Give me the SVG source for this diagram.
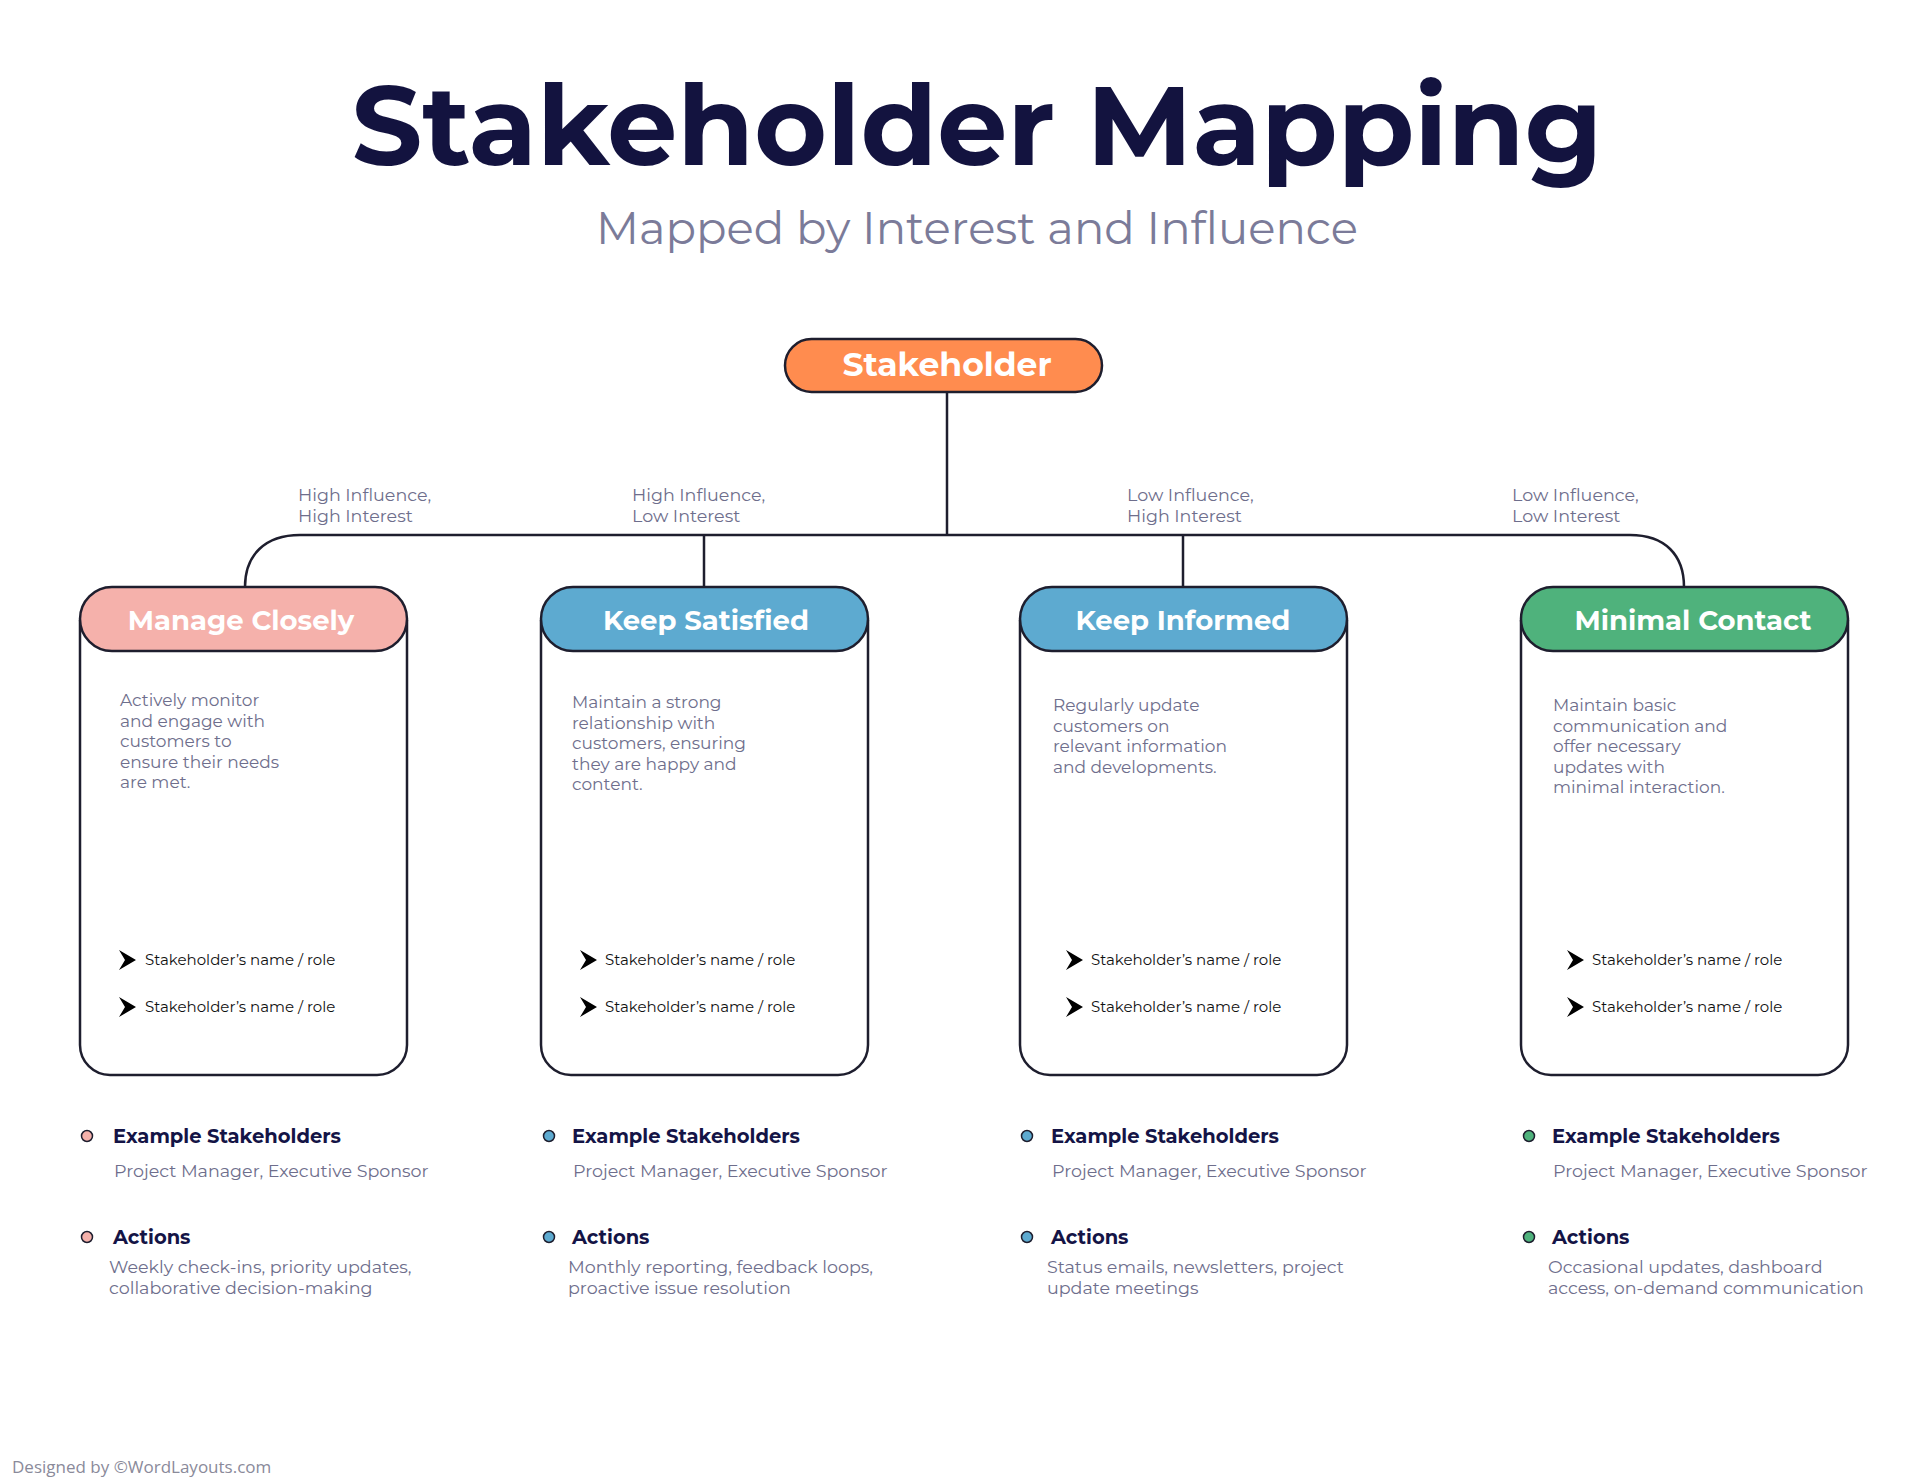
<svg xmlns="http://www.w3.org/2000/svg" width="1920" height="1484" viewBox="0 0 1920 1484">
<style>
text{font-family:Montserrat,Inter,"Open Sans","Liberation Sans",sans-serif}
.title{font-size:111px;font-weight:700;fill:#13133f}
.sub{font-size:45px;fill:#7b7b99}
.lbl{font-size:17.5px;fill:#6e6e8c}
.hd{font-size:27.5px;font-weight:700;fill:#fff}
.body{font-size:17px;fill:#6e6e8c}
.item{font-size:15px;fill:#111}
.bh{font-size:19.5px;font-weight:700;fill:#141446}
.bt{font-size:17.5px;fill:#6e6e8c}
.card{fill:#fff;stroke:#1e1e2e;stroke-width:2.5}
.hdr{stroke:#1e1e2e;stroke-width:2.5}
.ln{fill:none;stroke:#1e1e2e;stroke-width:2.5}
.dot{stroke:#1e1e2e;stroke-width:1.5}
</style>
<defs>
<path id="chev" d="M0,-10 L17,0 L0,10 L6,0 Z" fill="#000"/>
</defs>
<rect width="1920" height="1484" fill="#fff"/>
<text class="title" x="977" y="165" text-anchor="middle">Stakeholder Mapping</text>
<text class="sub" x="977" y="244" text-anchor="middle">Mapped by Interest and Influence</text>

<g id="connectors">
<path class="ln" d="M947,392 V535"/>
<path class="ln" d="M245,587 C245,555 265,535 300,535 H1630 C1665,535 1684,555 1684,587"/>
<path class="ln" d="M704,535 V587"/>
<path class="ln" d="M1183,535 V587"/>
<text class="lbl" x="298" y="501">High Influence,</text><text class="lbl" x="298" y="522">High Interest</text>
<text class="lbl" x="632" y="501">High Influence,</text><text class="lbl" x="632" y="522">Low Interest</text>
<text class="lbl" x="1127" y="501">Low Influence,</text><text class="lbl" x="1127" y="522">High Interest</text>
<text class="lbl" x="1512" y="501">Low Influence,</text><text class="lbl" x="1512" y="522">Low Interest</text>
</g>

<g id="root">
<rect x="785" y="339" width="317" height="53" rx="26.5" fill="#ff8c4f" class="hdr"/>
<text class="hd" x="947" y="376" text-anchor="middle" style="font-size:33px">Stakeholder</text>
</g>

<g id="card1">
<path class="card" d="M80,620 V1045 a30,30 0 0 0 30,30 H377 a30,30 0 0 0 30,-30 V620"/>
<rect x="80" y="587" width="327" height="64" rx="32" fill="#f5b1ab" class="hdr"/>
<text class="hd" x="241" y="630" text-anchor="middle">Manage Closely</text>
<text class="body" x="120" y="706">Actively monitor</text>
<text class="body" x="120" y="726.5">and engage with</text>
<text class="body" x="120" y="747">customers to</text>
<text class="body" x="120" y="767.5">ensure their needs</text>
<text class="body" x="120" y="788">are met.</text>
<use href="#chev" x="119" y="960"/><text class="item" x="145" y="965">Stakeholder’s name / role</text>
<use href="#chev" x="119" y="1007"/><text class="item" x="145" y="1012">Stakeholder’s name / role</text>
<circle class="dot" cx="87" cy="1136" r="5.5" fill="#f5b1ab"/>
<text class="bh" x="113" y="1143">Example Stakeholders</text>
<text class="bt" x="114" y="1177">Project Manager, Executive Sponsor</text>
<circle class="dot" cx="87" cy="1237" r="5.5" fill="#f5b1ab"/>
<text class="bh" x="113" y="1244">Actions</text>
<text class="bt" x="109" y="1273">Weekly check-ins, priority updates,</text>
<text class="bt" x="109" y="1294">collaborative decision-making</text>
</g>

<g id="card2">
<path class="card" d="M541,620 V1045 a30,30 0 0 0 30,30 H838 a30,30 0 0 0 30,-30 V620"/>
<rect x="541" y="587" width="327" height="64" rx="32" fill="#5daad0" class="hdr"/>
<text class="hd" x="706" y="630" text-anchor="middle">Keep Satisfied</text>
<text class="body" x="572" y="708">Maintain a strong</text>
<text class="body" x="572" y="728.5">relationship with</text>
<text class="body" x="572" y="749">customers, ensuring</text>
<text class="body" x="572" y="769.5">they are happy and</text>
<text class="body" x="572" y="790">content.</text>
<use href="#chev" x="580" y="960"/><text class="item" x="605" y="965">Stakeholder’s name / role</text>
<use href="#chev" x="580" y="1007"/><text class="item" x="605" y="1012">Stakeholder’s name / role</text>
<circle class="dot" cx="549" cy="1136" r="5.5" fill="#5daad0"/>
<text class="bh" x="572" y="1143">Example Stakeholders</text>
<text class="bt" x="573" y="1177">Project Manager, Executive Sponsor</text>
<circle class="dot" cx="549" cy="1237" r="5.5" fill="#5daad0"/>
<text class="bh" x="572" y="1244">Actions</text>
<text class="bt" x="568" y="1273">Monthly reporting, feedback loops,</text>
<text class="bt" x="568" y="1294">proactive issue resolution</text>
</g>

<g id="card3">
<path class="card" d="M1020,620 V1045 a30,30 0 0 0 30,30 H1317 a30,30 0 0 0 30,-30 V620"/>
<rect x="1020" y="587" width="327" height="64" rx="32" fill="#5daad0" class="hdr"/>
<text class="hd" x="1183" y="630" text-anchor="middle">Keep Informed</text>
<text class="body" x="1053" y="711">Regularly update</text>
<text class="body" x="1053" y="731.5">customers on</text>
<text class="body" x="1053" y="752">relevant information</text>
<text class="body" x="1053" y="772.5">and developments.</text>
<use href="#chev" x="1066" y="960"/><text class="item" x="1091" y="965">Stakeholder’s name / role</text>
<use href="#chev" x="1066" y="1007"/><text class="item" x="1091" y="1012">Stakeholder’s name / role</text>
<circle class="dot" cx="1027" cy="1136" r="5.5" fill="#5daad0"/>
<text class="bh" x="1051" y="1143">Example Stakeholders</text>
<text class="bt" x="1052" y="1177">Project Manager, Executive Sponsor</text>
<circle class="dot" cx="1027" cy="1237" r="5.5" fill="#5daad0"/>
<text class="bh" x="1051" y="1244">Actions</text>
<text class="bt" x="1047" y="1273">Status emails, newsletters, project</text>
<text class="bt" x="1047" y="1294">update meetings</text>
</g>

<g id="card4">
<path class="card" d="M1521,620 V1045 a30,30 0 0 0 30,30 H1818 a30,30 0 0 0 30,-30 V620"/>
<rect x="1521" y="587" width="327" height="64" rx="32" fill="#4fb27c" class="hdr"/>
<text class="hd" x="1693" y="630" text-anchor="middle">Minimal Contact</text>
<text class="body" x="1553" y="711">Maintain basic</text>
<text class="body" x="1553" y="731.5">communication and</text>
<text class="body" x="1553" y="752">offer necessary</text>
<text class="body" x="1553" y="772.5">updates with</text>
<text class="body" x="1553" y="793">minimal interaction.</text>
<use href="#chev" x="1567" y="960"/><text class="item" x="1592" y="965">Stakeholder’s name / role</text>
<use href="#chev" x="1567" y="1007"/><text class="item" x="1592" y="1012">Stakeholder’s name / role</text>
<circle class="dot" cx="1529" cy="1136" r="5.5" fill="#4fb27c"/>
<text class="bh" x="1552" y="1143">Example Stakeholders</text>
<text class="bt" x="1553" y="1177">Project Manager, Executive Sponsor</text>
<circle class="dot" cx="1529" cy="1237" r="5.5" fill="#4fb27c"/>
<text class="bh" x="1552" y="1244">Actions</text>
<text class="bt" x="1548" y="1273">Occasional updates, dashboard</text>
<text class="bt" x="1548" y="1294">access, on-demand communication</text>
</g>

<text x="12" y="1473" style="font-size:17px;fill:#8a8a9a;font-family:'Open Sans','Liberation Sans',sans-serif">Designed by ©WordLayouts.com</text>
</svg>
